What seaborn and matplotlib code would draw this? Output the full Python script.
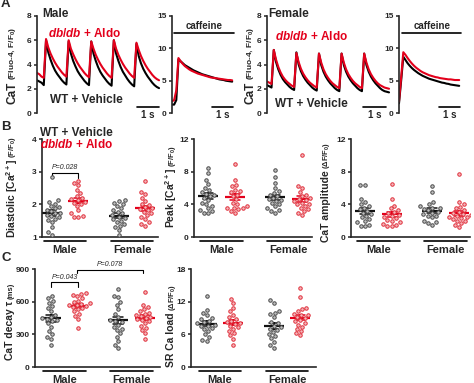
import numpy as np
import pandas as pd
import matplotlib
matplotlib.use('Agg')
import matplotlib.pyplot as plt
import matplotlib.transforms as mtransforms
import seaborn as sns

W, H = 474, 383

groups = ['WT + Vehicle', 'db/db + Aldo']
sexes = ['Male', 'Female']

# ---- A: CaT traces (F/F0), sampled every 0.1 s
male_wt_trace = [2.7, 2.6, 2.5, 2.3,
                 6.0, 5.0, 4.4, 3.9, 3.5, 3.2, 2.95, 2.7, 2.5, 2.35,
                 5.9, 4.9, 4.3, 3.85, 3.45, 3.15, 2.9, 2.65, 2.45, 2.3,
                 5.9, 4.9, 4.3, 3.8, 3.4, 3.1, 2.85, 2.6, 2.4, 2.25,
                 6.0, 4.9, 4.3, 3.8, 3.4, 3.1, 2.8, 2.55, 2.35, 2.2,
                 5.7, 4.7, 4.1, 3.65, 3.3, 3.0, 2.75, 2.5, 2.3, 2.15, 2.05]
male_db_trace = [3.3, 3.2, 3.0, 2.9,
                 6.1, 5.4, 4.9, 4.5, 4.15, 3.85, 3.6, 3.35, 3.15, 3.0,
                 6.0, 5.3, 4.85, 4.45, 4.1, 3.8, 3.55, 3.3, 3.1, 2.95,
                 5.9, 5.3, 4.8, 4.4, 4.05, 3.75, 3.5, 3.25, 3.05, 2.9,
                 6.0, 5.3, 4.8, 4.4, 4.05, 3.75, 3.5, 3.25, 3.05, 2.9,
                 5.8, 5.2, 4.7, 4.3, 3.95, 3.65, 3.4, 3.15, 2.95, 2.8, 2.7]
female_wt_trace = [2.3, 2.2, 2.1,
                   5.2, 4.2, 3.6, 3.15, 2.8, 2.55, 2.35, 2.15, 2.0, 1.9,
                   5.0, 4.0, 3.45, 3.05, 2.75, 2.5, 2.3, 2.1, 1.95, 1.85,
                   4.9, 3.95, 3.4, 3.0, 2.7, 2.45, 2.25, 2.05, 1.9, 1.8,
                   4.9, 3.95, 3.4, 3.0, 2.7, 2.45, 2.25, 2.05, 1.9, 1.8,
                   4.9, 3.95, 3.4, 3.0, 2.7, 2.45, 2.25, 2.05, 1.9, 1.8, 1.75, 1.7]
female_db_trace = [2.6, 2.5, 2.4,
                   5.2, 4.4, 3.8, 3.35, 3.0, 2.75, 2.55, 2.4, 2.25, 2.15,
                   4.95, 4.2, 3.65, 3.25, 2.95, 2.7, 2.5, 2.35, 2.2, 2.1,
                   4.9, 4.15, 3.6, 3.2, 2.9, 2.65, 2.45, 2.3, 2.15, 2.05,
                   4.9, 4.15, 3.6, 3.2, 2.9, 2.65, 2.45, 2.3, 2.15, 2.05,
                   4.9, 4.15, 3.6, 3.2, 2.9, 2.65, 2.45, 2.3, 2.2, 2.1, 2.05, 2.0]
male_wt_caff = [1.3, 1.3, 2.0, 8.3, 8.0, 7.7, 7.4, 7.2, 7.0, 6.8, 6.6, 6.45, 6.3, 6.15, 6.0,
                5.9, 5.8, 5.7, 5.6, 5.5, 5.4, 5.3, 5.2, 5.15, 5.1, 5.0, 4.95, 4.9, 4.85]
male_db_caff = [1.8, 2.0, 3.5, 8.5, 8.0, 7.6, 7.25, 7.0, 6.75, 6.55, 6.4, 6.25, 6.1, 6.0, 5.9,
                5.8, 5.7, 5.6, 5.5, 5.45, 5.4, 5.35, 5.3, 5.25, 5.2, 5.15, 5.1, 5.1, 5.05]
female_wt_caff = [1.5, 5.0, 8.7, 8.2, 7.7, 7.3, 6.95, 6.65, 6.4, 6.15, 5.95, 5.75, 5.6, 5.45, 5.3,
                  5.2, 5.1, 5.0, 4.9, 4.8, 4.7, 4.65, 4.55, 4.5, 4.4, 4.35, 4.3, 4.25, 4.2]
female_db_caff = [1.8, 5.5, 9.4, 9.0, 8.5, 8.05, 7.65, 7.3, 7.0, 6.75, 6.5, 6.3, 6.15, 6.0, 5.85,
                  5.75, 5.65, 5.55, 5.5, 5.4, 5.35, 5.3, 5.25, 5.2, 5.2, 5.15, 5.1, 5.1, 5.1]

# ---- B: diastolic Ca (F/F0)
dia_m_wt = [2.83, 2.12, 2.08, 2.02, 1.96, 1.92, 1.88, 1.83, 1.79, 1.75,
            1.72, 1.68, 1.64, 1.60, 1.55, 1.52, 1.45, 1.30, 1.15, 1.07]
dia_m_db = [2.72, 2.65, 2.58, 2.45, 2.35, 2.25, 2.2, 2.15, 2.12, 2.08,
            2.05, 2.0, 1.95, 1.82, 1.72, 1.65, 1.6, 1.62]
dia_f_wt = [2.12, 2.1, 2.05, 2.0, 1.95, 1.88, 1.82, 1.78, 1.72, 1.68,
            1.62, 1.58, 1.55, 1.5, 1.45, 1.4, 1.35, 1.3, 1.2, 1.05]
dia_f_db = [2.72, 2.38, 2.32, 2.2, 2.1, 2.02, 1.98, 1.92, 1.88, 1.85,
            1.82, 1.78, 1.72, 1.68, 1.62, 1.55, 1.45, 1.4, 1.35]
# peak Ca (F/F0)
pk_m_wt = [8.5, 7.8, 7.0, 6.5, 6.0, 5.7, 5.5, 5.3, 5.0, 4.8,
           4.5, 4.2, 4.0, 3.8, 3.5, 3.3, 3.0, 2.9, 3.2, 5.2]
pk_m_db = [9.0, 7.0, 6.4, 6.2, 5.8, 5.5, 5.2, 5.0, 4.6, 4.2,
           4.0, 3.8, 3.6, 3.4, 3.2, 3.0, 3.5, 3.5, 5.6]
pk_f_wt = [8.2, 7.3, 6.6, 6.0, 5.6, 5.4, 5.2, 5.0, 4.8, 4.6,
           4.4, 4.2, 4.0, 3.8, 3.5, 3.2, 3.0, 3.3, 4.5]
pk_f_db = [10.0, 6.2, 6.0, 5.5, 5.2, 5.0, 4.8, 4.6, 4.4, 4.2,
           4.0, 3.8, 3.6, 3.4, 3.2, 3.0, 2.7, 4.5, 4.1]
# CaT amplitude (dF/F0)
amp_m_wt = [6.4, 6.4, 4.6, 4.3, 4.0, 3.8, 3.6, 3.4, 3.2, 3.0,
            2.8, 2.6, 2.4, 2.2, 2.0, 1.8, 1.5, 1.3, 1.4]
amp_m_db = [6.5, 4.7, 3.8, 3.5, 3.3, 3.1, 2.9, 2.7, 2.5, 2.3,
            2.1, 2.0, 1.8, 1.6, 1.5, 1.4, 1.3, 2.6]
amp_f_wt = [6.2, 5.5, 4.3, 4.0, 3.8, 3.6, 3.4, 3.3, 3.1, 3.0,
            2.8, 2.6, 2.4, 2.6, 2.0, 1.8, 1.5, 1.7, 3.6]
amp_f_db = [7.7, 4.3, 4.0, 3.7, 3.5, 3.3, 3.1, 2.9, 2.7, 2.5,
            2.4, 2.3, 2.2, 2.0, 1.9, 1.7, 1.5, 1.2, 2.8, 2.6]
# ---- C: CaT decay tau (ms)
tau_m_wt = [650, 630, 610, 590, 560, 540, 510, 480, 460, 450,
            430, 420, 400, 370, 330, 300, 280, 260, 200, 440]
tau_m_db = [680, 670, 660, 650, 630, 610, 600, 590, 580, 570,
            560, 550, 540, 530, 510, 490, 470, 440, 360, 570]
tau_f_wt = [720, 640, 650, 600, 570, 530, 490, 460, 430, 410,
            390, 370, 340, 310, 280, 240, 200, 170, 350, 420]
tau_f_db = [690, 570, 550, 530, 510, 500, 490, 480, 470, 460,
            450, 440, 430, 420, 400, 380, 360, 340, 310, 260]
# SR Ca load (dF/F0)
sr_m_wt = [13.0, 10.5, 10.0, 9.5, 9.0, 8.8, 8.5, 8.2, 8.0, 7.8,
           7.5, 7.2, 7.0, 6.6, 6.0, 5.5, 5.0, 4.8, 7.6]
sr_m_db = [12.5, 11.8, 10.8, 10.2, 9.6, 9.2, 8.8, 8.5, 8.2, 7.9,
           7.6, 7.3, 7.0, 6.6, 6.2, 5.8, 5.2, 4.0, 8.0]
sr_f_wt = [12.3, 11.8, 10.0, 9.8, 10.2, 9.2, 8.3, 8.0, 7.6, 7.3,
           7.0, 6.8, 6.4, 6.0, 5.7, 5.3, 4.6, 4.0, 3.4]
sr_f_db = [14.5, 12.9, 10.8, 10.6, 10.2, 9.8, 9.5, 9.2, 9.0, 8.7,
           8.4, 8.1, 7.8, 7.4, 7.0, 6.6, 6.2, 5.8, 9.6]

RED = '#e3001b'
trace_pal = {groups[0]: 'black', groups[1]: RED}
edge_pal = {groups[0]: '#4a4a4a', groups[1]: '#e0303c'}
mean_pal = {groups[0]: '#111111', groups[1]: RED}


def px_rect(l, t, r, b):
    return [l / W, 1 - b / H, (r - l) / W, (b - t) / H]


def ftext(x, y, s, **kw):
    return fig.text(x / W, 1 - y / H, s, **kw)


def trace_df(wt, db):
    rows = []
    for grp, vals in zip(groups, [wt, db]):
        for i, v in enumerate(vals):
            rows.append((round(i * 0.1, 2), v, grp))
    return pd.DataFrame(rows, columns=['time', 'F', 'group'])


def dots_df(m_wt, m_db, f_wt, f_db):
    rows = []
    for sex, grp, vals in [('Male', groups[0], m_wt), ('Male', groups[1], m_db),
                           ('Female', groups[0], f_wt), ('Female', groups[1], f_db)]:
        rows += [(sex, grp, v) for v in vals]
    return pd.DataFrame(rows, columns=['sex', 'group', 'value'])


def trace_panel(ax, df, ymax, yticks, xmax, bar_x, bar_y):
    sns.lineplot(data=df, x='time', y='F', hue='group', hue_order=groups,
                 palette=trace_pal, estimator=None, linewidth=1.5,
                 legend=False, ax=ax)
    ax.set_xlim(0, xmax)
    ax.set_ylim(0, ymax)
    ax.set_yticks(yticks)
    ax.set_xticks([])
    ax.set_xlabel('')
    ax.set_ylabel('')
    sns.despine(ax=ax, bottom=True)
    # 1 s scale bar
    ax.plot([bar_x, bar_x + 1], [bar_y, bar_y], color='k', lw=1.2, clip_on=False)
    ax.annotate('1 s', (bar_x + 0.5, bar_y), xytext=(0, -2.5), textcoords='offset points',
                ha='center', va='top', fontsize=7)


def dot_panel(ax, df, ylim, yticks, xlim):
    sns.swarmplot(data=df, x='sex', y='value', hue='group', order=sexes,
                  hue_order=groups, palette=edge_pal, dodge=True, size=2.5,
                  linewidth=0.7, legend=False, ax=ax, warn_thresh=1)
    for coll in ax.collections:
        fc = coll.get_facecolor()
        if len(fc):
            c = np.array(fc[0][:3])
            coll.set_edgecolor(tuple(c))
            coll.set_facecolor(tuple(c * 0.35 + 0.65))
    sns.pointplot(data=df, x='sex', y='value', hue='group', order=sexes,
                  hue_order=groups, palette=mean_pal, dodge=0.4, errorbar='se',
                  marker='_', linestyle='none', markersize=14, markeredgewidth=1.6,
                  capsize=0.14, err_kws={'linewidth': 1.1}, legend=False, ax=ax)
    ax.set_ylim(*ylim)
    ax.set_yticks(yticks)
    ax.set_xlim(*xlim)
    ax.set_xlabel('')
    ax.set_ylabel('')
    sns.despine(ax=ax)
    ax.tick_params(axis='x', length=0, pad=6, labelsize=8)
    # group underlines
    tr = mtransforms.offset_copy(ax.get_xaxis_transform(), fig=fig, y=-4, units='dots')
    for c in [0, 1]:
        ax.plot([c - 0.32, c + 0.32], [0, 0], color='k', lw=1.2, transform=tr, clip_on=False)


def split_ylabel(x, y_bottom, big, small, big_size=7.5, small_size=5.5):
    t = ftext(x, y_bottom, big, rotation=90, ha='center', va='bottom',
              fontsize=big_size, fontweight='bold')
    bb = t.get_window_extent(renderer=fig.canvas.get_renderer())
    fig.text((x + 1) / W, bb.y1 / fig.bbox.height + 1.5 / H, small, rotation=90,
             ha='center', va='bottom', fontsize=small_size, fontweight='bold')


def xlim_px(left, right, male_c, step=67.0):
    return ((left - male_c) / step, (right - male_c) / step)


sns.set_style('ticks')
plt.rcParams['font.family'] = ['Liberation Sans', 'DejaVu Sans']
plt.rcParams['font.weight'] = 'bold'
plt.rcParams['mathtext.fontset'] = 'custom'
plt.rcParams['mathtext.rm'] = 'Liberation Sans:bold'
plt.rcParams['mathtext.it'] = 'Liberation Sans:bold:italic'
plt.rcParams['mathtext.bf'] = 'Liberation Sans:bold'
plt.rcParams['axes.linewidth'] = 1.2
plt.rcParams['ytick.major.width'] = 1.1
plt.rcParams['ytick.major.size'] = 2.5
plt.rcParams['ytick.major.pad'] = 1.2
plt.rcParams['ytick.labelsize'] = 6

fig = plt.figure(figsize=(W / 100, H / 100), dpi=100)

# ---------------- panel A
ax = fig.add_axes(px_rect(37, 16, 160, 113))
trace_panel(ax, trace_df(male_wt_trace, male_db_trace), 8, [0, 2, 4, 6, 8],
            123 / 22.6, 4.41, 0.5)
ax = fig.add_axes(px_rect(172, 16, 234, 113))
trace_panel(ax, trace_df(male_wt_caff, male_db_caff), 15, [0, 5, 10, 15],
            62 / 21.5, 1.86, 1.0)
ax.plot([0.1, 2.9], [12.3, 12.3], color='k', lw=1.2, clip_on=False)
ax.text(1.49, 12.7, 'caffeine', ha='center', va='bottom', fontsize=7)

ax = fig.add_axes(px_rect(267, 16, 391, 113))
trace_panel(ax, trace_df(female_wt_trace, female_db_trace), 8, [0, 2, 4, 6, 8],
            124 / 22.6, 4.25, 0.5)
ax = fig.add_axes(px_rect(399, 16, 463, 113))
trace_panel(ax, trace_df(female_wt_caff, female_db_caff), 15, [0, 5, 10, 15],
            64 / 21.5, 1.86, 1.0)
ax.plot([0.12, 2.9], [12.3, 12.3], color='k', lw=1.2, clip_on=False)
ax.text(1.52, 12.7, 'caffeine', ha='center', va='bottom', fontsize=7)

ftext(42, 14, 'Male', ha='left', va='center', fontsize=8.5)
ftext(48, 33.5, r'$\mathit{db/db}$ + Aldo', ha='left', va='center', fontsize=8.5, color=RED)
ftext(50, 100, 'WT + Vehicle', ha='left', va='center', fontsize=8.5)
ftext(268, 14, 'Female', ha='left', va='center', fontsize=8.5)
ftext(275, 36, r'$\mathit{db/db}$ + Aldo', ha='left', va='center', fontsize=8.5, color=RED)
ftext(275, 104, 'WT + Vehicle', ha='left', va='center', fontsize=8.5)
split_ylabel(12, 104, 'CaT', '(Fluo-4, F/F$_0$)', 8.5, 6)
split_ylabel(250, 104, 'CaT', '(Fluo-4, F/F$_0$)', 8.5, 6)

# ---------------- panel B
ax = fig.add_axes(px_rect(42, 139, 158, 237))
dot_panel(ax, dots_df(dia_m_wt, dia_m_db, dia_f_wt, dia_f_db), (1, 4), [1, 2, 3, 4],
          xlim_px(42, 158, 65))
ax.plot([-0.2, -0.2, 0.2, 0.2], [2.81, 2.96, 2.96, 2.81], color='k', lw=0.8)
ax.text(0, 3.02, 'P=0.028', ha='center', va='bottom', fontsize=5, style='italic',
        fontweight='normal')

ax = fig.add_axes(px_rect(194, 139, 312, 237))
dot_panel(ax, dots_df(pk_m_wt, pk_m_db, pk_f_wt, pk_f_db), (0, 12), [0, 4, 8, 12],
          xlim_px(194, 312, 221.5))

ax = fig.add_axes(px_rect(351, 139, 470, 237))
dot_panel(ax, dots_df(amp_m_wt, amp_m_db, amp_f_wt, amp_f_db), (0, 12), [0, 4, 8, 12],
          xlim_px(351, 470, 378.5))

ftext(40, 133, 'WT + Vehicle', ha='left', va='center', fontsize=8.5)
ftext(40, 145, r'$\mathit{db/db}$ + Aldo', ha='left', va='center', fontsize=8.5, color=RED)
split_ylabel(12, 238, 'Diastolic [Ca$^{2+}$]', '(F/F$_0$)')
split_ylabel(171, 228, 'Peak [Ca$^{2+}$]', '(F/F$_0$)')
split_ylabel(326, 242, 'CaT amplitude', '(ΔF/F$_0$)')

# ---------------- panel C
ax = fig.add_axes(px_rect(35, 269, 160, 367))
dot_panel(ax, dots_df(tau_m_wt, tau_m_db, tau_f_wt, tau_f_db), (0, 900),
          [0, 300, 600, 900], xlim_px(35, 160, 64.5))
ax.plot([-0.2, -0.2, 0.2, 0.2], [737, 778, 778, 737], color='k', lw=0.8)
ax.text(0, 790, 'P=0.043', ha='center', va='bottom', fontsize=5, style='italic',
        fontweight='normal')
ax.plot([0.19, 0.19, 1.17, 1.17], [860, 890, 890, 860], color='k', lw=0.8, clip_on=False)
ax.text(0.68, 905, 'P=0.078', ha='center', va='bottom', fontsize=5, style='italic',
        fontweight='normal', clip_on=False)

ax = fig.add_axes(px_rect(191, 269, 316, 367))
dot_panel(ax, dots_df(sr_m_wt, sr_m_db, sr_f_wt, sr_f_db), (0, 18), [0, 6, 12, 18],
          xlim_px(191, 316, 220))

split_ylabel(10, 360, 'CaT decay τ', '(ms)')
split_ylabel(171, 367, 'SR Ca load', '(ΔF/F$_0$)')

# panel letters
ftext(1, 4, 'A', ha='left', va='center', fontsize=9.5)
ftext(1, 127, 'B', ha='left', va='center', fontsize=9.5)
ftext(1, 258, 'C', ha='left', va='center', fontsize=9.5)

fig.savefig('out.png', dpi=100)
